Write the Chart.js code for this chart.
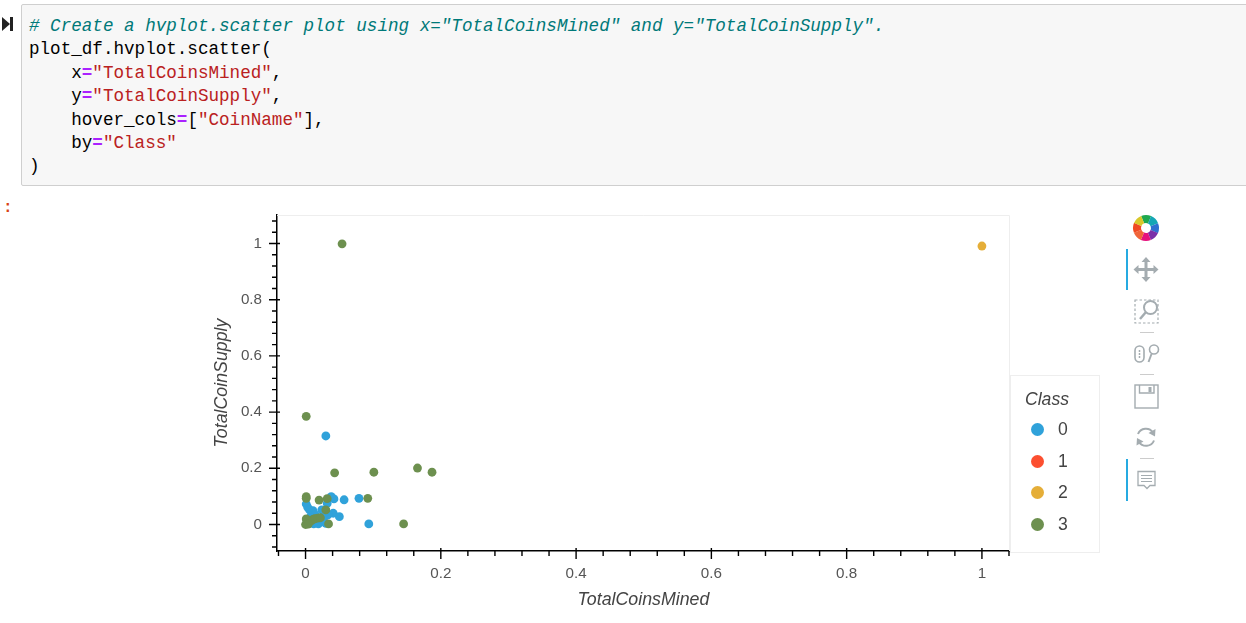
<!DOCTYPE html>
<html lang="en">
    <head>
        <meta charset="UTF-8" />
        <title>TotalCoinsMined vs TotalCoinSupply</title>
        <script src="https://cdn.jsdelivr.net/npm/chart.js@4"></script>
        <style>
            html, body {
                margin: 0;
                padding: 0;
                background: #fff;
                overflow: hidden;
            }
            .page {
                position: relative;
                width: 1246px;
                height: 623px;
            }
            .cell {
                position: absolute;
                left: 21px;
                top: 4px;
                width: 1240px;
                height: 180px;
                background: #f7f7f7;
                border: 1px solid #cfcfcf;
                border-radius: 2px;
            }
            .cell pre {
                margin: 0;
                position: absolute;
                left: 7px;
                top: 10px;
                font-family: "Liberation Mono", monospace;
                font-size: 17.6px;
                line-height: 23.4px;
                color: #000;
            }
            .c { color: #007979; font-style: italic; }
            .s { color: #ba2121; }
            .o { color: #aa22ff; font-weight: bold; }
            .prompt {
                position: absolute;
                left: 3px;
                top: 199px;
                font: bold 16px "Liberation Mono", monospace;
                color: #d84315;
            }
            #chart {
                position: absolute;
                left: 200px;
                top: 205px;
            }
            .legend {
                position: absolute;
                left: 1010px;
                top: 375px;
                width: 88px;
                height: 176px;
                border: 1px solid #eeeeee;
                font-family: "Liberation Sans", sans-serif;
                color: #444;
            }
            .legend .title {
                position: absolute;
                left: 14px;
                top: 13px;
                font-size: 17.6px;
                font-style: italic;
            }
            .legend .row {
                position: absolute;
                left: 20px;
                font-size: 17.6px;
                line-height: 20px;
            }
            .legend .dot {
                position: absolute;
                left: 0;
                top: 4px;
                width: 13px;
                height: 13px;
                border-radius: 50%;
            }
            .legend .lab {
                position: absolute;
                left: 27px;
                top: 0;
            }
            .tools {
                position: absolute;
                left: 1120px;
                top: 205px;
            }
        </style>
    </head>
    <body>
        <div class="page">
            <svg style="position:absolute;left:0;top:14px" width="16" height="20">
                <rect x="10" y="3" width="3" height="14" fill="#222"></rect>
                <path d="M2 3 L10 10 L2 17 Z" fill="#222"></path>
            </svg>
            <div class="cell"><pre><span class="c"># Create a hvplot.scatter plot using x="TotalCoinsMined" and y="TotalCoinSupply".</span>
plot_df.hvplot.scatter(
    x<span class="o">=</span><span class="s">"TotalCoinsMined"</span>,
    y<span class="o">=</span><span class="s">"TotalCoinSupply"</span>,
    hover_cols<span class="o">=</span>[<span class="s">"CoinName"</span>],
    by<span class="o">=</span><span class="s">"Class"</span>
)</pre></div>
            <div class="prompt">:</div>
            <canvas id="chart" width="820" height="410"></canvas>
            <div class="legend" id="legend">
                <div class="title">Class</div>
            </div>
            <svg class="tools" width="50" height="310" viewBox="1120 205 50 310">
                <g id="logo" fill="none" stroke-width="8"></g>
                <rect x="1126" y="249" width="2" height="41" fill="#26aae1"></rect>
                <rect x="1126" y="459" width="2" height="42" fill="#26aae1"></rect>
                <g fill="#a4acb0">
                    <path d="M1146 257 l4.5 5 h-3 v6 h6 v-3 l5 4.5 -5 4.5 v-3 h-6 v6 h3 l-4.5 5 -4.5 -5 h3 v-6 h-6 v3 l-5 -4.5 5 -4.5 v3 h6 v-6 h-3 z"></path>
                    <rect x="1140" y="332" width="14" height="1" fill="#ccc"></rect>
                    <rect x="1140" y="374" width="14" height="1" fill="#ccc"></rect>
                    <rect x="1140" y="458" width="14" height="1" fill="#ccc"></rect>
                </g>
                <g fill="none" stroke="#a4acb0">
                    <rect x="1135" y="300" width="23" height="23" stroke-dasharray="2.5 2" stroke-width="1.2"></rect>
                    <circle cx="1150.5" cy="307.5" r="6.5" stroke-width="2" fill="#fff"></circle>
                    <path d="M1146 312 L1140 319" stroke-width="2.5"></path>
                    <rect x="1135" y="346" width="9" height="16" rx="4.5" stroke-width="1.6"></rect>
                    <path d="M1139.5 350 v8" stroke-width="1.5" stroke-dasharray="2 1"></path>
                    <circle cx="1154" cy="349.5" r="4.5" stroke-width="1.6"></circle>
                    <path d="M1151.5 354 L1148.5 362" stroke-width="2"></path>
                    <rect x="1135" y="385" width="23" height="23" stroke-width="1.4"></rect>
                    <path d="M1139.5 385 v8 h14.5 v-8" stroke-width="1.4"></path>
                    <path d="M1138 434 a8.5 8.5 0 0 1 15 -1.5 M1154 440.5 a8.5 8.5 0 0 1 -15 1.5" stroke-width="2"></path>
                    <path d="M1138 471.5 h17 v14 h-5 l-3 3 -3 -3 h-6 z" stroke-width="1.3"></path>
                    <path d="M1141 475.5 h11 M1141 478.5 h11 M1141 481.5 h11" stroke-width="1"></path>
                </g>
                <path d="M1155.5 429 l-0.5 7.5 -6.5 -3.5 z M1136.5 445.5 l0.5 -7.5 6.5 3.5 z" fill="#a4acb0"></path>
                <rect x="1148.5" y="387" width="3" height="5" fill="#a4acb0"></rect>
            </svg>
        </div>

        <script>
            const classLabels = ["0", "1", "2", "3"];
            const classColors = ["#30a2da", "#fc4f30", "#e5ae38", "#6d904f"];

            const class0 = [
                [0.03, 0.315], [0.0935, 0.002], [0.079, 0.093], [0.057, 0.088],
                [0.042, 0.091], [0.038, 0.099], [0.032, 0.075], [0.001, 0.073],
                [0.003, 0.062], [0.006, 0.052], [0.011, 0.049], [0.024, 0.052],
                [0.041, 0.04], [0.05, 0.028], [0.033, 0.034], [0.002, 0.017],
                [0.012, 0.002], [0.019, 0.002], [0.026, 0.02], [0.021, 0.017],
                [0.008, 0.03], [0.014, 0.035], [0.028, 0.042], [0.03, 0.004],
            ];
            const class1 = [];
            const class2 = [[1, 0.991]];
            const class3 = [
                [0.054, 0.999], [0.001, 0.385], [0.043, 0.184], [0.101, 0.186],
                [0.1655, 0.201], [0.187, 0.186], [0.092, 0.093], [0.145, 0.002],
                [0.034, 0.002], [0.02, 0.087], [0.032, 0.092], [0.03, 0.052],
                [0.001, 0.099], [0.001, 0.093], [0, 0], [0.002, 0.002],
                [0.004, 0.007], [0.006, 0.01], [0.008, 0.013], [0.01, 0.016],
                [0.012, 0.019], [0.014, 0.021], [0.018, 0.023], [0.022, 0.024],
                [0.001, 0.02], [0.004, 0.001],
            ];
            const classData = [class0, class1, class2, class3];

            const xRange = [-0.0422, 1.0415];
            const yRange = [-0.0943, 1.1014];
            const minorStep = 0.04;
            const majorStep = 0.2;

            function isMajor(v) {
                const r = v / majorStep;
                return Math.abs(r - Math.round(r)) < 1e-6;
            }

            function tickLabel(v) {
                return isMajor(v) ? String(Math.round(v * 10) / 10) : "";
            }

            // the empty minor labels still reserve room, so drop that padding
            function noPadding(s) {
                s.paddingTop = 0;
                s.paddingBottom = 0;
                s.paddingLeft = 0;
                s.paddingRight = 0;
            }

            // bokeh style ticks: major cross the axis, minor only go outwards
            const axisTicks = {
                id: "axisTicks",
                beforeDatasetsDraw(chart) {
                    const a = chart.chartArea;
                    const ctx = chart.ctx;
                    ctx.save();
                    ctx.strokeStyle = "#eeeeee";
                    ctx.lineWidth = 1;
                    ctx.beginPath();
                    ctx.moveTo(a.left, a.top + 0.5);
                    ctx.lineTo(a.right - 0.5, a.top + 0.5);
                    ctx.lineTo(a.right - 0.5, a.bottom);
                    ctx.stroke();
                    ctx.restore();
                },
                afterDatasetsDraw(chart) {
                    const a = chart.chartArea;
                    const ctx = chart.ctx;
                    ctx.save();
                    ctx.strokeStyle = "#000";
                    ctx.lineWidth = 1.4;
                    ctx.beginPath();
                    chart.scales.x.ticks.forEach((t) => {
                        const px = chart.scales.x.getPixelForValue(t.value);
                        const major = isMajor(t.value);
                        ctx.moveTo(px, a.bottom - (major ? 3 : 0));
                        ctx.lineTo(px, a.bottom + (major ? 8 : 5));
                    });
                    chart.scales.y.ticks.forEach((t) => {
                        const py = chart.scales.y.getPixelForValue(t.value);
                        const major = isMajor(t.value);
                        ctx.moveTo(a.left + (major ? 3 : 0), py);
                        ctx.lineTo(a.left - (major ? 8 : 5), py);
                    });
                    ctx.stroke();
                    ctx.restore();
                },
            };

            const tickFont = { family: "Liberation Sans", size: 15.2 };
            const titleFont = { family: "Liberation Sans", size: 17.8, style: "italic" };

            new Chart(document.getElementById("chart"), {
                type: "scatter",
                data: {
                    datasets: classLabels.map((label, i) => ({
                        label: label,
                        data: classData[i].map((p) => ({ x: p[0], y: p[1] })),
                        backgroundColor: classColors[i],
                        borderColor: classColors[i],
                        pointRadius: 4.4,
                        pointBorderWidth: 0,
                        order: classLabels.length - i,
                    })),
                },
                options: {
                    responsive: false,
                    animation: false,
                    layout: { padding: { left: 0, top: 10, right: 10, bottom: 0 } },
                    plugins: { legend: { display: false }, tooltip: { enabled: false } },
                    scales: {
                        x: {
                            type: "linear",
                            min: xRange[0],
                            max: xRange[1],
                            afterFit(s) {
                                s.height = 64;
                                noPadding(s);
                            },
                            grid: { drawOnChartArea: false, drawTicks: false },
                            border: { color: "#000", width: 1.5 },
                            ticks: {
                                stepSize: minorStep,
                                includeBounds: false,
                                autoSkip: false,
                                maxRotation: 0,
                                padding: 14,
                                color: "#555",
                                font: tickFont,
                                callback: tickLabel,
                            },
                            title: {
                                display: true,
                                text: "TotalCoinsMined",
                                color: "#444",
                                font: titleFont,
                                padding: { top: 0, bottom: 4 },
                            },
                        },
                        y: {
                            type: "linear",
                            min: yRange[0],
                            max: yRange[1],
                            afterFit(s) {
                                s.width = 77;
                                noPadding(s);
                            },
                            grid: { drawOnChartArea: false, drawTicks: false },
                            border: { color: "#000", width: 1.5 },
                            ticks: {
                                stepSize: minorStep,
                                includeBounds: false,
                                autoSkip: false,
                                padding: 15,
                                color: "#555",
                                font: tickFont,
                                callback: tickLabel,
                            },
                            title: {
                                display: true,
                                text: "TotalCoinSupply",
                                color: "#444",
                                font: titleFont,
                                padding: { top: 11, bottom: 0 },
                            },
                        },
                    },
                },
                plugins: [axisTicks],
            });

            // legend box, same colours as the series
            const legendBox = document.getElementById("legend");
            classLabels.forEach((label, i) => {
                const row = document.createElement("div");
                row.className = "row";
                row.style.top = 43 + i * 31.7 + "px";
                row.innerHTML =
                    '<span class="dot" style="background:' + classColors[i] + '"></span>' +
                    '<span class="lab">' + label + "</span>";
                legendBox.appendChild(row);
            });

            // bokeh logo ring
            const logoColors = ["#1fa84f", "#15a6b5", "#2f6fd0", "#7b2fa8", "#e5127d", "#f0663a", "#f04a23", "#d8c82a"];
            const logo = document.getElementById("logo");
            logoColors.forEach((c, i) => {
                const arc = document.createElementNS("http://www.w3.org/2000/svg", "circle");
                arc.setAttribute("cx", 1146);
                arc.setAttribute("cy", 228);
                arc.setAttribute("r", 9);
                arc.setAttribute("stroke", c);
                arc.setAttribute("stroke-dasharray", "7.07 49.48");
                arc.setAttribute("transform", "rotate(" + (i * 45 - 112) + " 1146 228)");
                logo.appendChild(arc);
            });
        </script>
    </body>
</html>
